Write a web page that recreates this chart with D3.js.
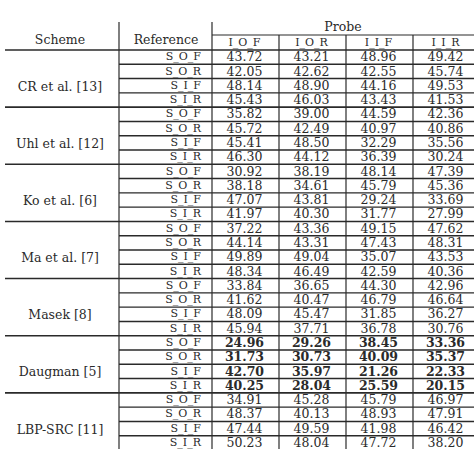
<!DOCTYPE html>
<html><head><meta charset="utf-8">
<script src="https://d3js.org/d3.v7.min.js"></script>
<style>body{margin:0;background:#fff}</style></head>
<body><svg id="c" width="474" height="460"></svg>
<script>
const schemes=["CR et al. [13]","Uhl et al. [12]","Ko et al. [6]","Ma et al. [7]","Masek [8]","Daugman [5]","LBP-SRC [11]"];
const references=["S_O_F","S_O_R","S_I_F","S_I_R"];
const probes=["I_O_F","I_O_R","I_I_F","I_I_R"];
const boldScheme="Daugman [5]";
const values=[
[[43.72,43.21,48.96,49.42],[42.05,42.62,42.55,45.74],[48.14,48.90,44.16,49.53],[45.43,46.03,43.43,41.53]],
[[35.82,39.00,44.59,42.36],[45.72,42.49,40.97,40.86],[45.41,48.50,32.29,35.56],[46.30,44.12,36.39,30.24]],
[[30.92,38.19,48.14,47.39],[38.18,34.61,45.79,45.36],[47.07,43.81,29.24,33.69],[41.97,40.30,31.77,27.99]],
[[37.22,43.36,49.15,47.62],[44.14,43.31,47.43,48.31],[49.89,49.04,35.07,43.53],[48.34,46.49,42.59,40.36]],
[[33.84,36.65,44.30,42.96],[41.62,40.47,46.79,46.64],[48.09,45.47,31.85,36.27],[45.94,37.71,36.78,30.76]],
[[24.96,29.26,38.45,33.36],[31.73,30.73,40.09,35.37],[42.70,35.97,21.26,22.33],[40.25,28.04,25.59,20.15]],
[[34.91,45.28,45.79,46.97],[48.37,40.13,48.93,47.91],[47.44,49.59,41.98,46.42],[50.23,48.04,47.72,38.20]]
];
const svg=d3.select("#c");
const font="'DejaVu Serif','Liberation Serif',serif";
const ink="#2a2a2a";
const rows=[];
schemes.forEach((s,i)=>references.forEach((r,j)=>rows.push({s,i,r,j,v:values[i][j]})));
const y=d3.scaleBand().domain(d3.range(rows.length)).range([50,450]);
const x=d3.scaleBand().domain(probes).range([212,480]);
const g=svg.append("g").attr("font-family",font).attr("fill",ink).attr("font-size",12.5);
const line=(x1,y1,x2,y2,w)=>svg.append("line").attr("x1",x1).attr("y1",y1).attr("x2",x2).attr("y2",y2).attr("stroke",ink).attr("stroke-width",w||1);
// header
g.append("text").attr("x",60).attr("y",44).attr("text-anchor","middle").text("Scheme");
g.append("text").attr("x",166).attr("y",44).attr("text-anchor","middle").text("Reference");
g.append("text").attr("x",343).attr("y",31).attr("text-anchor","middle").text("Probe");
probes.forEach(p=>g.append("text").attr("x",x(p)+x.bandwidth()/2-1).attr("y",45.5).attr("text-anchor","middle").attr("font-size",11).text(p));
line(212,35,474,35,1.2);
line(5,50,474,50,1.6);
// verticals
[119,212].forEach(v=>line(v,22,v,449,1.2));
probes.slice(1).forEach(p=>line(x(p),35,x(p),449,1.2));
// rows
rows.forEach((d,k)=>{
  const yy=y(k);
  if(k>0) line(d.j===0?5:119,yy,474,yy,d.j===0?1.6:1.4);
  g.append("text").attr("x",201).attr("y",yy+y.bandwidth()-4).attr("text-anchor","end").attr("font-size",11).text(d.r);
  d.v.forEach((v,c)=>g.append("text").attr("x",x(probes[c])+x.bandwidth()/2-1).attr("y",yy+y.bandwidth()-3)
    .attr("text-anchor","middle").attr("font-weight",d.s===boldScheme?"bold":null).text(v.toFixed(2)));
});
schemes.forEach((s,i)=>{
  g.append("text").attr("x",60).attr("y",y(i*4+2)+y.bandwidth()/2+5).attr("text-anchor","middle").text(s);
});
</script></body></html>
